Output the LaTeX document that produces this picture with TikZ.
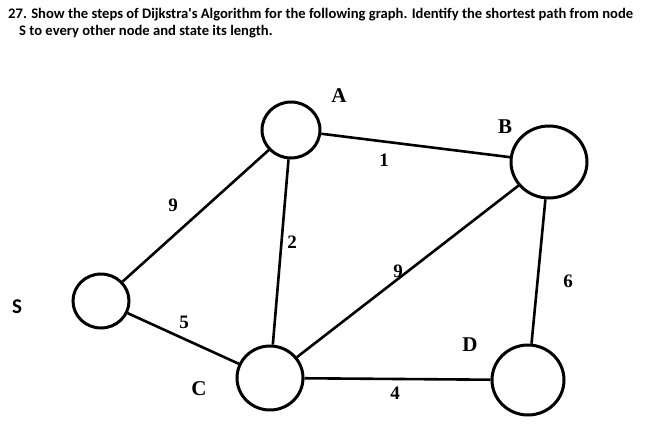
\documentclass[tikz,border=0pt]{standalone}
\usepackage{fontspec}
\usetikzlibrary{shapes.geometric}
\setmainfont{Liberation Serif}
\newfontfamily\hdr{Carlito}
\begin{document}
\begin{tikzpicture}[x=1pt,y=-1pt,
  vert/.style={draw,line width=3pt,ellipse,inner sep=0pt},
  edge/.style={line width=2.6pt},
  wlab/.style={font=\bfseries\fontsize{19}{19}\selectfont,inner sep=1pt},
  nlab/.style={font=\bfseries\fontsize{21}{21}\selectfont,inner sep=0pt}]
\useasboundingbox (0,0) rectangle (670,431);
\node[anchor=north west,align=left,font=\hdr\bfseries\fontsize{14.6}{17.5}\selectfont,inner sep=0pt] (q) at (8,8)
 {27. Show the steps of Dijkstra's Algorithm for the following graph. Identify the shortest path from node\\
 \hspace*{11pt}S to every other node and state its length.};
\node[vert,minimum width=58pt,minimum height=56pt] (A) at (291,130) {};
\node[vert,minimum width=76pt,minimum height=72pt] (B) at (549,162) {};
\node[vert,minimum width=56pt,minimum height=54pt] (S) at (101,301) {};
\node[vert,minimum width=66pt,minimum height=64pt] (C) at (270,378) {};
\node[vert,minimum width=72pt,minimum height=70pt] (D) at (528,380) {};
\draw[edge] (S) -- (A);
\draw[edge] (A) -- (B);
\draw[edge] (A) -- (C);
\draw[edge] (C) -- (B);
\draw[edge] (B) -- (D);
\draw[edge] (S) -- (C);
\draw[edge] (C) -- (D);
\node[wlab] (w1) at (173,205) {9};
\node[wlab] (w2) at (384,160) {1};
\node[wlab] (w3) at (292,242) {2};
\node[wlab] (w4) at (398,271) {9};
\node[wlab] (w5) at (568,281) {6};
\node[wlab] (w6) at (184,322) {5};
\node[wlab] (w7) at (395,393) {4};
\node[nlab] (lA) at (339,96) {A};
\node[nlab] (lB) at (505,127) {B};
\node[nlab,font=\hdr\bfseries\fontsize{21}{21}\selectfont] (lS) at (17,307) {S};
\node[nlab] (lC) at (199,389) {C};
\node[nlab] (lD) at (470,345) {D};
\end{tikzpicture}
\end{document}
